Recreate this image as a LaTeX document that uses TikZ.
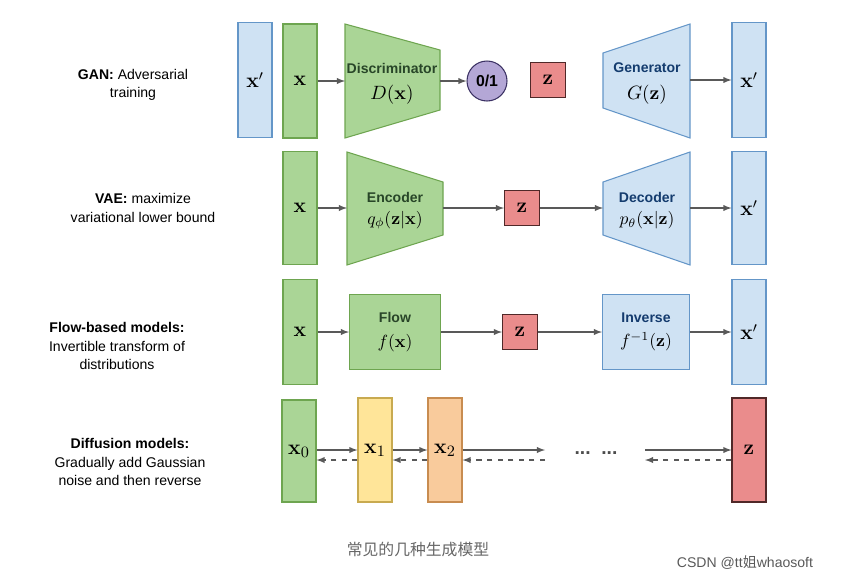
\documentclass[tikz,border=0pt]{standalone}
\usepackage{amsmath,amssymb}
\usepackage[no-math]{fontspec}
\setmainfont{Liberation Sans}
\newfontfamily\cjk{Noto Sans CJK SC}
\begin{document}
\begin{tikzpicture}[x=0.02cm,y=-0.02cm,
  box/.style={draw,line width=0.6pt,minimum width=0.68cm,inner sep=0pt,font=\fontsize{11.5}{12}\selectfont},
  gbox/.style={box,fill={rgb,255:red,170;green,213;blue,150},draw={rgb,255:red,110;green,165;blue,80}},
  bbox/.style={box,fill={rgb,255:red,207;green,226;blue,243},draw={rgb,255:red,100;green,150;blue,200}},
  rbox/.style={box,fill={rgb,255:red,234;green,140;blue,140},draw={rgb,255:red,80;green,40;blue,40}},
  trapg/.style={fill={rgb,255:red,170;green,213;blue,150},draw={rgb,255:red,110;green,165;blue,80},line width=0.6pt},
  trapb/.style={fill={rgb,255:red,207;green,226;blue,243},draw={rgb,255:red,100;green,150;blue,200},line width=0.6pt},
  arr/.style={-latex,draw=gray!70!black,line width=0.6pt},
  darr/.style={arr,dashed},
  lbl/.style={align=center,font=\fontsize{8}{10.5}\selectfont},
  ttl/.style={font=\fontsize{8}{10}\selectfont\bfseries,text={rgb,255:red,40;green,70;blue,40}},
  tb/.style={font=\fontsize{8}{10}\selectfont\bfseries,text={rgb,255:red,20;green,60;blue,110}}]
\useasboundingbox (0,0) rectangle (842,582);
% labels
\node[lbl] (lgan) at (133,85) {\textbf{GAN:} Adversarial\\training};
\node[lbl] (lvae) at (143,208) {\textbf{VAE:} maximize\\variational lower bound};
\node[lbl] (lflow) at (117,346) {\textbf{Flow-based models:}\\Invertible transform of\\distributions};
\node[lbl] (ldiff) at (130,462) {\textbf{Diffusion models:}\\Gradually add Gaussian\\noise and then reverse};
% GAN row
\node[bbox,minimum height=2.3cm] (g1) at (255,80) {$\mathbf{x}'$};
\node[gbox,minimum height=2.28cm] (g2) at (300,81) {$\mathbf{x}$};
\draw[trapg] (345,24) -- (440,50) -- (440,110) -- (345,138) -- cycle;
\coordinate (dl) at (345,81); \coordinate (dr) at (440,81);
\node[ttl] (dt) at (392,68) {Discriminator};
\node[font=\fontsize{11}{12}\selectfont] (dm) at (392,95) {$D(\mathbf{x})$};
\node[circle,draw={rgb,255:red,60;green,50;blue,100},fill={rgb,255:red,180;green,167;blue,214},line width=0.6pt,minimum size=0.8cm,inner sep=0pt,font=\fontsize{9}{10}\selectfont\bfseries] (c) at (487,81) {0/1};
\node[rbox,minimum height=0.7cm,minimum width=0.7cm] (gz) at (548,80) {$\mathbf{z}$};
\draw[trapb] (603,53) -- (690,24) -- (690,138) -- (603,108) -- cycle;
\coordinate (gl) at (603,80); \coordinate (gr) at (690,80);
\node[tb] (gt) at (647,68) {Generator};
\node[font=\fontsize{11}{12}\selectfont] (gm) at (647,95) {$G(\mathbf{z})$};
\node[bbox,minimum height=2.3cm] (g3) at (749,80) {$\mathbf{x}'$};
\draw[arr] (g2) -- (dl);
\draw[arr] (dr) -- (c);
\draw[arr] (gr) -- (g3);
% VAE row
\node[gbox,minimum height=2.26cm] (v1) at (300,208) {$\mathbf{x}$};
\draw[trapg] (347,152) -- (443,182) -- (443,235) -- (347,265) -- cycle;
\coordinate (el) at (347,208); \coordinate (er) at (443,208);
\node[ttl] (et) at (395,197) {Encoder};
\node[font=\fontsize{10}{12}\selectfont] (em) at (395,220) {$q_\phi(\mathbf{z}|\mathbf{x})$};
\node[rbox,minimum height=0.7cm,minimum width=0.7cm] (vz) at (522,208) {$\mathbf{z}$};
\draw[trapb] (603,182) -- (690,152) -- (690,265) -- (603,235) -- cycle;
\coordinate (cl) at (603,208); \coordinate (cr) at (690,208);
\node[tb] (ct) at (647,197) {Decoder};
\node[font=\fontsize{10}{12}\selectfont] (cm) at (647,220) {$p_\theta(\mathbf{x}|\mathbf{z})$};
\node[bbox,minimum height=2.26cm] (v3) at (749,208) {$\mathbf{x}'$};
\draw[arr] (v1) -- (el);
\draw[arr] (er) -- (vz);
\draw[arr] (vz) -- (cl);
\draw[arr] (cr) -- (v3);
% Flow row
\node[gbox,minimum height=2.1cm] (f1) at (300,332) {$\mathbf{x}$};
\node[draw={rgb,255:red,110;green,165;blue,80},fill={rgb,255:red,170;green,213;blue,150},line width=0.6pt,minimum width=1.82cm,minimum height=1.5cm,align=center,font=\fontsize{8}{14}\selectfont] (fl) at (395,332) {\textbf{\color[rgb]{0.16,0.27,0.16}Flow}\\{\fontsize{10}{12}\selectfont$f(\mathbf{x})$}};
\node[rbox,minimum height=0.7cm,minimum width=0.7cm] (fz) at (520,332) {$\mathbf{z}$};
\node[draw={rgb,255:red,100;green,150;blue,200},fill={rgb,255:red,207;green,226;blue,243},line width=0.6pt,minimum width=1.74cm,minimum height=1.5cm,align=center,font=\fontsize{8}{14}\selectfont] (iv) at (646,332) {\textbf{\color[rgb]{0.08,0.23,0.43}Inverse}\\{\fontsize{10}{12}\selectfont$f^{-1}(\mathbf{z})$}};
\node[bbox,minimum height=2.1cm] (f3) at (749,332) {$\mathbf{x}'$};
\draw[arr] (f1) -- (fl);
\draw[arr] (fl) -- (fz);
\draw[arr] (fz) -- (iv);
\draw[arr] (iv) -- (f3);
% Diffusion row
\node[gbox,minimum height=2.04cm,font=\fontsize{13}{14}\selectfont] (d0) at (299,451) {$\mathbf{x}_0$};
\node[box,fill={rgb,255:red,255;green,229;blue,153},draw={rgb,255:red,200;green,170;blue,80},minimum height=2.08cm,font=\fontsize{13}{14}\selectfont] (d1) at (375,450) {$\mathbf{x}_1$};
\node[box,fill={rgb,255:red,249;green,203;blue,156},draw={rgb,255:red,200;green,140;blue,80},minimum height=2.08cm,font=\fontsize{13}{14}\selectfont] (d2) at (445,450) {$\mathbf{x}_2$};
\node[rbox,minimum height=2.08cm] (dz) at (749,450) {$\mathbf{z}$};
\node[font=\fontsize{11}{12}\selectfont\bfseries,text=gray!60!black] (dots) at (596,453) {\textbf{...\ \ ...}};
\coordinate (a1) at (545,450); \coordinate (a2) at (545,460);
\coordinate (b1) at (645,450); \coordinate (b2) at (645,460);
\draw[arr] (d0.east|-a1) -- (d1.west|-a1);
\draw[arr] (d1.east|-a1) -- (d2.west|-a1);
\draw[arr] (d2.east|-a1) -- (a1);
\draw[arr] (b1) -- (dz.west|-b1);
\draw[darr] (d1.west|-a2) -- (d0.east|-a2);
\draw[darr] (d2.west|-a2) -- (d1.east|-a2);
\draw[darr] (a2) -- (d2.east|-a2);
\draw[darr] (dz.west|-b2) -- (b2);
% captions
\node[font=\cjk\fontsize{9}{10}\selectfont,text=gray!80!black] (cap) at (418,550) {常见的几种生成模型};
\node[font=\fontsize{8}{10}\selectfont,text=gray!70!black] (wm) at (745,563) {CSDN @tt{\cjk 姐}whaosoft};
\end{tikzpicture}
\end{document}
